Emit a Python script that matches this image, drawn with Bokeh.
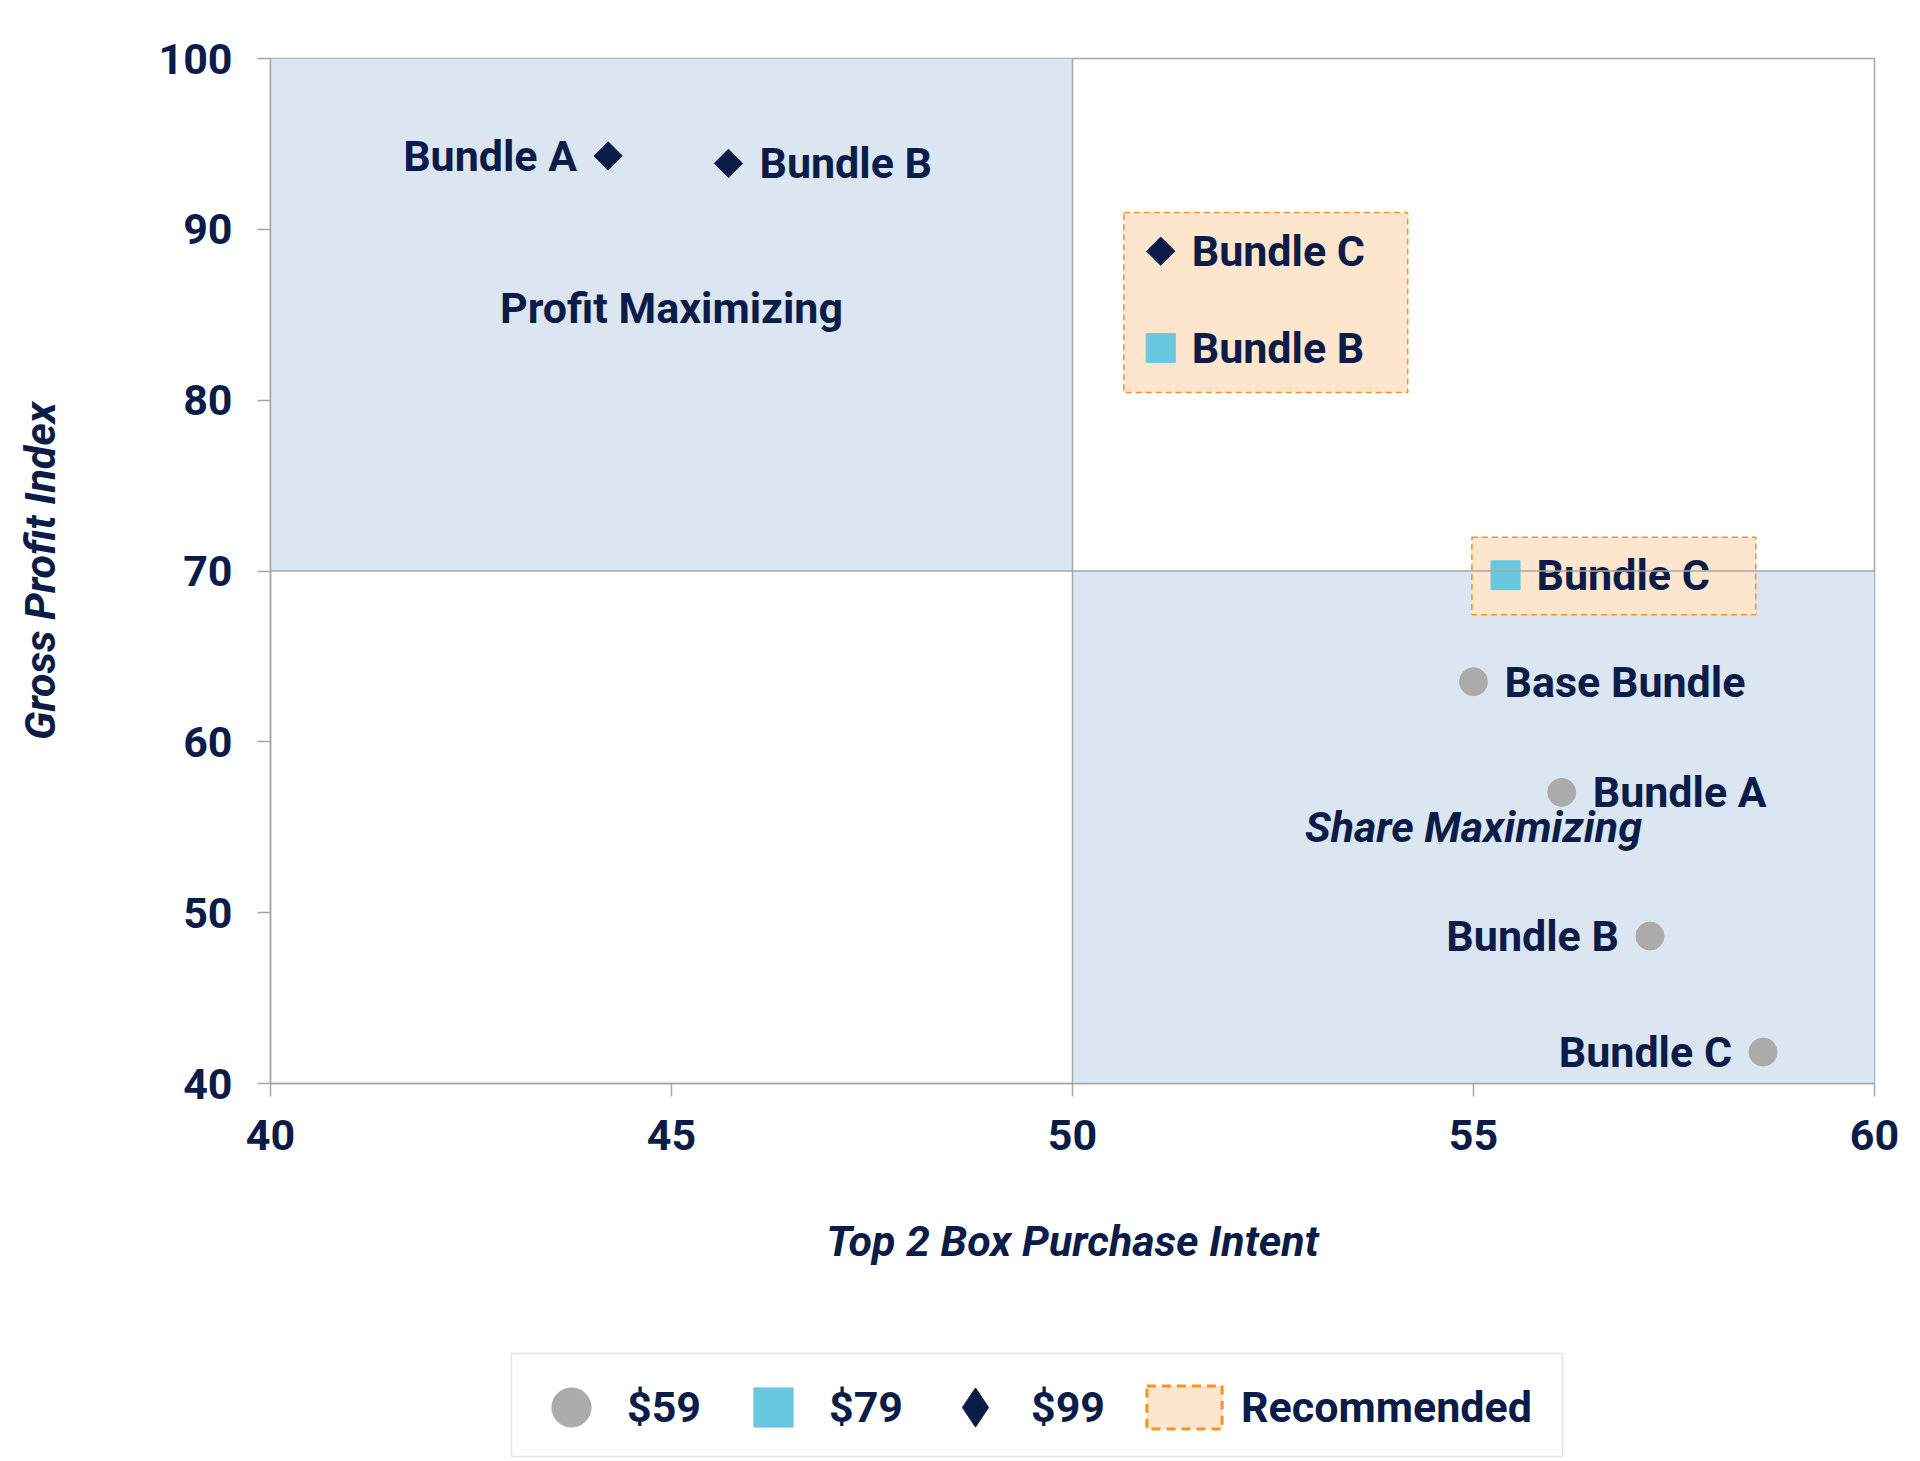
import numpy as np
from bokeh.core.properties import value
from bokeh.embed import file_html
from bokeh.layouts import column
from bokeh.models import BoxAnnotation, ColumnDataSource, FixedTicker, Legend, LegendItem, Span
from bokeh.plotting import figure
from bokeh.resources import INLINE

# ---- data ----
price_tiers = ["$59", "$79", "$99"]

bundle_price = ["$59", "$59", "$59", "$59", "$79", "$79", "$99", "$99", "$99"]
bundle_name = ["Base Bundle", "Bundle A", "Bundle B", "Bundle C",
               "Bundle B", "Bundle C",
               "Bundle A", "Bundle B", "Bundle C"]
purchase_intent = [55.00, 56.10, 57.20, 58.61, 51.10, 55.40, 44.21, 45.71, 51.10]
profit_index = [63.52, 57.04, 48.63, 41.84, 83.05, 69.75, 94.30, 93.86, 88.72]

# recommended boxes (data units)
rec_left = [50.64, 54.98]
rec_right = [54.18, 58.52]
rec_bottom = [80.45, 67.44]
rec_top = [90.99, 71.97]

# shaded quadrants
quad_left = [40, 50]
quad_right = [50, 60]
quad_bottom = [70, 40]
quad_top = [100, 70]

quadrant_names = ["Profit Maximizing", "Share Maximizing"]
quadrant_x = [45.0, 55.0]
quadrant_y = [85.4, 55.0]

x_ticks = [40, 45, 50, 55, 60]
y_ticks = [40, 50, 60, 70, 80, 90, 100]

# ---- styling ----
NAVY = "#0B1C48"
GRAY_LINE = "#A6A6A6"
QUAD_FILL = "#DCE6F2"
REC_FILL = "#FDE6CD"
REC_LINE = "#F7941D"
FONT = "Roboto"
FS = "43px"

TIER_STYLE = {
    "$59": dict(marker="circle", color="#ABABAB", size=28, angle=0.0),
    "$79": dict(marker="square", color="#6AC7E0", size=29, angle=0.0),
    "$99": dict(marker="square", color=NAVY, size=20, angle=np.pi / 4),
}
# legends ignore glyph angle, so the $99 swatch uses bokeh's own diamond
LEGEND_MARKER = {"$59": "circle", "$79": "square", "$99": "diamond"}
REC_STYLE = dict(fill_color=REC_FILL, line_color=REC_LINE, line_width=1.5, line_dash="6 4")
LEFT_LABELED = {("$99", "Bundle A"), ("$59", "Bundle B"), ("$59", "Bundle C")}
LABEL_GAP = 31

MAIN_H = 1298
LEGEND_H = 163


def tier_source(tier):
    idx = [i for i, t in enumerate(bundle_price) if t == tier]
    return ColumnDataSource(data=dict(x=[purchase_intent[i] for i in idx],
                                      y=[profit_index[i] for i in idx]))


def add_tier(fig, tier, marker=None, **kw):
    st = TIER_STYLE[tier]
    return fig.scatter("x", "y", source=tier_source(tier), marker=marker or st["marker"],
                       size=st["size"], angle=st["angle"],
                       fill_color=st["color"], line_color=st["color"], **kw)


def add_recommended(fig, **kw):
    style = dict(REC_STYLE, **kw)
    return fig.quad(left=rec_left, right=rec_right, bottom=rec_bottom, top=rec_top, **style)


p = figure(width=1904, height=MAIN_H, x_range=(40, 60), y_range=(40, 100),
           output_backend="svg", toolbar_location=None,
           min_border_left=270, min_border_top=58, min_border_right=30, min_border_bottom=215)

p.xgrid.visible = False
p.ygrid.visible = False
p.outline_line_color = GRAY_LINE
p.outline_line_width = 1.5
p.outline_line_alpha = 1.0

p.quad(left=quad_left, right=quad_right, bottom=quad_bottom, top=quad_top,
       fill_color=QUAD_FILL, line_color=None)
p.add_layout(Span(location=50, dimension="height", line_color=GRAY_LINE, line_width=1.5))
p.add_layout(Span(location=70, dimension="width", line_color=GRAY_LINE, line_width=1.5))

add_recommended(p)
for tier in price_tiers:
    add_tier(p, tier)

left_side = [(t, n) in LEFT_LABELED for t, n in zip(bundle_price, bundle_name)]
label_src = ColumnDataSource(data=dict(
    x=purchase_intent, y=profit_index, text=bundle_name,
    dx=[-LABEL_GAP if s else LABEL_GAP for s in left_side],
    align=["right" if s else "left" for s in left_side],
))
p.text("x", "y", text="text", source=label_src, x_offset="dx", text_align="align",
       text_baseline="middle", text_color=NAVY, text_font=value(FONT),
       text_font_style="bold", text_font_size=FS)

p.text(x=quadrant_x[:1], y=quadrant_y[:1], text=quadrant_names[:1], text_align="center",
       text_baseline="middle", text_color=NAVY, text_font=value(FONT),
       text_font_style="bold", text_font_size=FS)
p.text(x=quadrant_x[1:], y=quadrant_y[1:], text=quadrant_names[1:], text_align="center",
       text_baseline="middle", text_color=NAVY, text_font=value(FONT),
       text_font_style="bold italic", text_font_size=FS)

for ax in (p.xaxis[0], p.yaxis[0]):
    ax.axis_line_color = GRAY_LINE
    ax.axis_line_width = 1.5
    ax.major_tick_line_color = GRAY_LINE
    ax.major_tick_line_width = 1.5
    ax.major_tick_in = 0
    ax.major_tick_out = 13
    ax.minor_tick_line_color = None
    ax.major_label_text_color = NAVY
    ax.major_label_text_font = FONT
    ax.major_label_text_font_style = "bold"
    ax.major_label_text_font_size = FS
    ax.axis_label_text_color = NAVY
    ax.axis_label_text_font = FONT
    ax.axis_label_text_font_style = "bold italic"
    ax.axis_label_text_font_size = FS

p.xaxis[0].ticker = FixedTicker(ticks=x_ticks)
p.yaxis[0].ticker = FixedTicker(ticks=y_ticks)
p.xaxis[0].axis_label = "Top 2 Box Purchase Intent"
p.yaxis[0].axis_label = "Gross Profit Index"
p.xaxis[0].major_label_standoff = 23
p.yaxis[0].major_label_standoff = 25
p.xaxis[0].axis_label_standoff = 63
p.yaxis[0].axis_label_standoff = 90

# legend strip below the chart, with hidden copies of the styled renderers
lg = figure(width=1904, height=LEGEND_H, x_range=p.x_range, y_range=p.y_range,
            x_axis_location=None, y_axis_location=None, min_border=0,
            output_backend="svg", toolbar_location=None)
lg.grid.visible = False
lg.outline_line_color = None

legend_common = dict(orientation="horizontal", margin=0, padding=3,
                     label_text_font=FONT, label_text_font_style="bold",
                     label_text_font_size=FS, label_text_color=NAVY,
                     border_line_color=None, background_fill_alpha=0.0)

tier_items = [LegendItem(label=t, renderers=[add_tier(lg, t, marker=LEGEND_MARKER[t], visible=False)])
              for t in price_tiers]
rec_item = LegendItem(label="Recommended",
                      renderers=[add_recommended(lg, line_width=3, line_dash="9 6", visible=False)])

# frame-relative screen offsets (y measured up from the strip's frame bottom)
lg.add_layout(BoxAnnotation(left=241, right=1292, bottom=5, top=108,
                            left_units="screen", right_units="screen",
                            top_units="screen", bottom_units="screen",
                            fill_color="white", fill_alpha=1.0,
                            line_color=GRAY_LINE, line_width=1.5, level="underlay"))
lg.add_layout(Legend(items=tier_items, location=(251, 5), glyph_width=100, glyph_height=98,
                     label_standoff=6, spacing=22, **legend_common), "center")
lg.add_layout(Legend(items=[rec_item], location=(867, 27), glyph_width=94, glyph_height=54,
                     label_standoff=10, **legend_common), "center")

open("out.html", "w").write(file_html(column(p, lg, spacing=0), INLINE))
